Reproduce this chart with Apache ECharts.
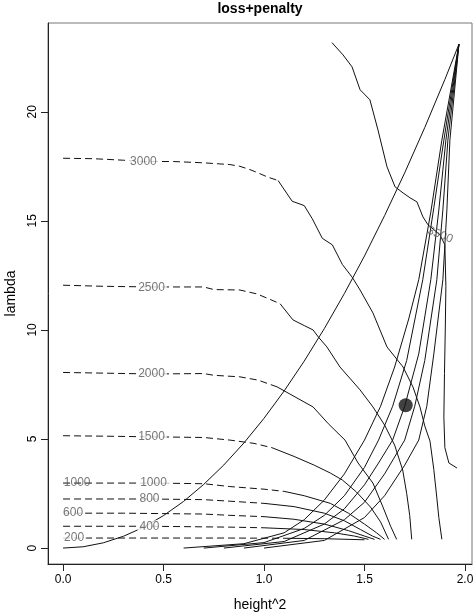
<!DOCTYPE html>
<html>
<head>
<meta charset="utf-8">
<script src="https://cdn.jsdelivr.net/npm/echarts@6/dist/echarts.min.js"></script>
<style>
  html, body { margin: 0; padding: 0; background: #fff; }
  #chart { width: 474px; height: 614px; }
</style>
</head>
<body>
<div id="chart"></div>
<script>
// tick values
const xTicks = [0, 0.5, 1, 1.5, 2];
const yTicks = [0, 5, 10, 15, 20];

// outer constraint curve
const outerCurve = [[0,0],[0.1,0.06],[0.2,0.24],[0.3,0.54],[0.4,0.95],[0.5,1.49],[0.6,2.14],[0.7,2.92],
  [0.8,3.81],[0.9,4.82],[1.0,5.95],[1.1,7.2],[1.2,8.57],[1.3,10.06],[1.4,11.67],[1.5,13.39],
  [1.6,15.24],[1.7,17.2],[1.8,19.28],[1.9,21.48],[1.97,23.1]];

// steeper curves, left to right
const pathA = [[0.6,0],[0.9,0.2],[1.1,0.7],[1.2,1.3],[1.3,2.2],[1.4,3.4],[1.5,4.95],[1.58,6.5],
  [1.65,8.3],[1.72,10.5],[1.77,12.3],[1.83,15.4],[1.885,18.7],[1.97,23.1]];
const pathB = [[0.7,0],[1.0,0.25],[1.2,0.9],[1.3,1.5],[1.4,2.4],[1.5,3.7],[1.57,4.95],[1.64,6.5],
  [1.71,8.6],[1.79,12.3],[1.845,15.6],[1.895,18.7],[1.97,23.1]];
const pathC = [[0.8,0],[1.1,0.3],[1.3,1.1],[1.4,1.8],[1.5,2.9],[1.57,3.9],[1.64,4.95],[1.70,6.5],
  [1.77,8.9],[1.83,12.3],[1.87,15.5],[1.905,18.7],[1.97,23.1]];
const pathD = [[0.9,0],[1.2,0.35],[1.4,1.3],[1.5,2.1],[1.6,3.4],[1.70,4.95],[1.75,6.5],
  [1.80,8.6],[1.86,12.3],[1.89,15.5],[1.915,18.7],[1.97,23.1]];
const pathE = [[1.0,0],[1.3,0.35],[1.5,1.4],[1.6,2.4],[1.7,3.8],[1.77,4.95],[1.81,6.5],
  [1.845,8.9],[1.89,12.3],[1.91,15.5],[1.925,18.7],[1.97,23.1]];

// contours of loss+penalty
const contour3500 = [[1.338,23.17],[1.393,22.61],[1.438,22.06],[1.478,21.01],[1.527,20.55],[1.567,19.17],
  [1.612,17.48],[1.652,16.56],[1.692,16.28],[1.726,16.06],[1.761,15.87],[1.791,15.18],[1.816,14.82],
  [1.876,14.36],[1.90,13.9],[1.905,12.0],[1.902,10.0],[1.898,8.0],[1.895,6.0],[1.90,4.6],[1.92,3.9],[1.96,3.67]];
const contour3000 = [[0,17.87],[0.15,17.85],[0.3,17.78],[0.4,17.72],[0.55,17.72],[0.7,17.66],[0.83,17.58],
  [0.88,17.5],[0.93,17.35],[0.97,17.2],[1.02,17.0],[1.07,16.85],[1.14,15.9],[1.20,15.7],[1.24,15.1],
  [1.29,14.2],[1.34,13.9],[1.39,13.0],[1.44,12.4],[1.478,11.83],[1.542,10.78],[1.612,9.22],[1.692,8.3],
  [1.741,7.39],[1.776,6.47],[1.80,5.6],[1.826,4.9],[1.845,3.6],[1.86,2.3],[1.87,1.4],[1.885,0.4]];
const contour2500 = [[0,12.05],[0.2,12.0],[0.44,11.97],[0.70,11.97],[0.75,11.85],[0.88,11.83],[0.965,11.65],
  [1.03,11.4],[1.08,11.2],[1.144,10.46],[1.20,10.2],[1.244,10.0],[1.27,9.68],[1.313,9.22],[1.378,8.3],
  [1.478,7.25],[1.542,6.47],[1.60,5.64],[1.65,4.72],[1.69,3.58],[1.71,2.5],[1.725,1.5],[1.735,0.4]];
const contour2000 = [[0,8.05],[0.2,8.02],[0.44,7.98],[0.70,8.0],[0.75,7.92],[0.88,7.85],[0.97,7.7],
  [1.065,7.39],[1.164,6.88],[1.244,6.47],[1.32,5.7],[1.403,4.95],[1.468,3.9],[1.542,2.98],[1.592,1.88],
  [1.63,1.0],[1.66,0.4]];
const contour1500 = [[0,5.15],[0.2,5.13],[0.44,5.1],[0.7,5.07],[0.83,4.95],[0.95,4.8],[1.04,4.6],[1.15,4.2],
  [1.25,3.8],[1.33,3.44],[1.39,3.12],[1.46,2.57],[1.53,1.88],[1.58,1.2],[1.62,0.4]];
const contour1000 = [[0,2.98],[0.2,2.98],[0.45,2.98],[0.7,2.95],[0.83,2.82],[1.0,2.7],[1.1,2.6],[1.2,2.4],
  [1.33,2.05],[1.42,1.6],[1.5,1.1],[1.56,0.7],[1.6,0.4]];
const contour800 = [[0,2.25],[0.43,2.25],[0.7,2.22],[0.83,2.15],[1.0,2.05],[1.15,1.9],[1.3,1.6],[1.4,1.25],
  [1.48,0.85],[1.54,0.55],[1.58,0.4]];
const contour600 = [[0,1.6],[0.3,1.6],[0.7,1.56],[0.83,1.5],[1.0,1.44],[1.15,1.32],[1.3,1.1],[1.42,0.8],
  [1.5,0.55],[1.55,0.4]];
const contour400 = [[0,1.0],[0.43,1.0],[0.83,0.96],[1.0,0.93],[1.2,0.85],[1.35,0.7],[1.45,0.55],[1.52,0.4]];
const contour200 = [[0,0.46],[0.4,0.46],[0.83,0.46],[1.1,0.45],[1.3,0.43],[1.5,0.38]];

// contour labels: text, x, y
const contourLabels = [
  ['3000', 0.40, 17.72], ['2500', 0.44, 11.95], ['2000', 0.44, 7.98], ['1500', 0.44, 5.09],
  ['1000', 0.07, 2.98], ['1000', 0.45, 2.98], ['800', 0.43, 2.25], ['600', 0.05, 1.6],
  ['400', 0.43, 1.0], ['200', 0.055, 0.46], ['3500', 1.876, 14.36]
];

// marked optimum
const optimum = [[1.705, 6.55]];

const chart = echarts.init(document.getElementById('chart'));

const ink = '#111';
const FONT = '"Liberation Sans", Arial, Helvetica, sans-serif';
const dashUntil = 1.1;

function solid(data) {
  return {
    type: 'line', data: data, showSymbol: false, symbol: 'none', silent: true,
    lineStyle: { color: ink, width: 1 }, z: 2
  };
}

// contour: dashed while flat, solid once it bends down
function contour(data) {
  const flat = data.filter(p => p[0] <= dashUntil);
  const steep = data.filter(p => p[0] >= dashUntil);
  if (flat.length && steep.length && flat[flat.length - 1][0] < dashUntil) {
    steep.unshift(flat[flat.length - 1]);
  }
  const out = [];
  if (flat.length > 1) {
    out.push({
      type: 'line', data: flat, showSymbol: false, symbol: 'none', silent: true,
      lineStyle: { color: ink, width: 1, type: [7, 4] }, z: 2
    });
  }
  if (steep.length > 1) out.push(solid(steep));
  return out;
}

let series = [];
[outerCurve, pathA, pathB, pathC, pathD, pathE].forEach(d => series.push(solid(d)));
[contour3500, contour3000, contour2500, contour2000, contour1500, contour1000,
 contour800, contour600, contour400, contour200].forEach(d => { series = series.concat(contour(d)); });

series.push({
  type: 'scatter', silent: true, z: 5,
  symbolSize: 0,
  itemStyle: { color: 'transparent' },
  data: contourLabels.map((l, i) => ({
    value: [l[1], l[2]],
    name: l[0],
    label: l[0] === '3500' ? { rotate: -22, backgroundColor: 'transparent' }
         : (i === 4 ? { backgroundColor: 'transparent' } : {})
  })),
  label: {
    show: true, position: 'inside', formatter: p => p.name,
    color: '#555', fontSize: 12, fontFamily: FONT,
    backgroundColor: '#fff', padding: [0, 2]
  },
  labelLayout: { hideOverlap: false }
});

series.push({
  type: 'scatter', silent: true, z: 6,
  data: optimum, symbol: 'circle', symbolSize: 14,
  itemStyle: { color: ink }
});

chart.setOption({
  backgroundColor: '#fff',
  animation: false,
  graphic: [{
    type: 'text', x: 260, y: 2,
    style: { text: 'loss+penalty', textAlign: 'center', fill: '#000', font: 'bold 14px ' + FONT }
  }],
  grid: {
    left: 48, right: 2, top: 23, bottom: 50, outerBoundsMode: 'none', containLabel: false,
    show: true, borderColor: '#777', borderWidth: 1, backgroundColor: 'transparent'
  },
  xAxis: {
    type: 'value', min: -0.075, max: 2.035,
    name: 'height^2', nameLocation: 'middle', nameGap: 34,
    nameTextStyle: { fontSize: 14, color: '#000', fontFamily: FONT },
    axisLine: { show: true, onZero: false, lineStyle: { color: '#222' } },
    axisTick: { show: true, length: 7, customValues: xTicks, lineStyle: { color: '#222' } },
    axisLabel: { customValues: xTicks, formatter: v => v.toFixed(1), color: '#000', fontSize: 12,
      fontFamily: FONT, margin: 10 },
    splitLine: { show: false }
  },
  yAxis: {
    type: 'value', min: -0.73, max: 24.07,
    name: 'lambda', nameLocation: 'middle', nameGap: 30, nameRotate: 90,
    nameTextStyle: { fontSize: 14, color: '#000', fontFamily: FONT },
    axisLine: { show: true, onZero: false, lineStyle: { color: '#222' } },
    axisTick: { show: true, length: 7, customValues: yTicks, lineStyle: { color: '#222' } },
    axisLabel: { customValues: yTicks, rotate: 90, color: '#000', fontSize: 12, fontFamily: FONT, margin: 9 },
    splitLine: { show: false }
  },
  series: series
});
</script>
</body>
</html>
